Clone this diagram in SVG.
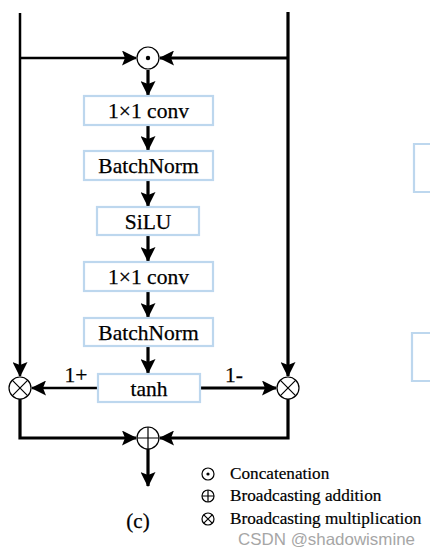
<svg xmlns="http://www.w3.org/2000/svg" width="430" height="555" viewBox="0 0 430 555">
<defs>
<style>
.box{fill:#fff;stroke:#bdd7ee;stroke-width:2.2}
.lbl{font-family:"Liberation Serif",serif;font-size:21.5px;fill:#000;stroke:#000;stroke-width:0.25;text-anchor:middle}
.ln{fill:none;stroke:#000;stroke-width:2.5}
.th{stroke-width:3.2}
.op{fill:#fff;stroke:#000;stroke-width:1.2}
.leg{font-family:"Liberation Serif",serif;font-size:17.2px;fill:#000;stroke:#000;stroke-width:0.2}
</style>
<marker id="ah" markerUnits="userSpaceOnUse" markerWidth="15" markerHeight="15" viewBox="0 0 15 15" refX="14" refY="7.5" orient="auto">
<path d="M0,0 L15,7.5 L0,15 L3,7.5 Z" fill="#000"/>
</marker>
</defs>
<g id="connectors">
<path class="ln" d="M20,13 V376" marker-end="url(#ah)"/>
<path class="ln th" d="M288,12 V376" marker-end="url(#ah)"/>
<path class="ln" d="M20,58 H136" marker-end="url(#ah)"/>
<path class="ln th" d="M288,58 H160" marker-end="url(#ah)"/>
<path class="ln th" d="M148,70 V95" marker-end="url(#ah)"/>
<path class="ln th" d="M148,125 V150" marker-end="url(#ah)"/>
<path class="ln th" d="M148,180 V206" marker-end="url(#ah)"/>
<path class="ln th" d="M148,235 V261" marker-end="url(#ah)"/>
<path class="ln th" d="M148,291 V317" marker-end="url(#ah)"/>
<path class="ln th" d="M148,346 V373" marker-end="url(#ah)"/>
<path class="ln" d="M97,388 H32" marker-end="url(#ah)"/>
<path class="ln th" d="M200,388 H276" marker-end="url(#ah)"/>
<path class="ln th" d="M20,399 V438 H136" marker-end="url(#ah)"/>
<path class="ln th" d="M288,399 V438 H160" marker-end="url(#ah)"/>
<path class="ln th" d="M148,449 V486" marker-end="url(#ah)"/>
</g>
<g id="concat">
<circle class="op" cx="148" cy="58" r="11"/>
<circle cx="148" cy="58" r="2.2" fill="#000"/>
</g>
<g id="conv1"><rect class="box" x="84" y="96" width="129" height="29"/><text class="lbl" x="148.5" y="118">1×1 conv</text></g>
<g id="bn1"><rect class="box" x="84" y="151" width="129" height="29"/><text class="lbl" x="148.5" y="173">BatchNorm</text></g>
<g id="silu"><rect class="box" x="97" y="207" width="102" height="28"/><text class="lbl" x="148" y="229">SiLU</text></g>
<g id="conv2"><rect class="box" x="84" y="262" width="129" height="29"/><text class="lbl" x="148.5" y="284">1×1 conv</text></g>
<g id="bn2"><rect class="box" x="84" y="318" width="129" height="28"/><text class="lbl" x="148.5" y="340">BatchNorm</text></g>
<g id="tanh"><rect class="box" x="98" y="374" width="102" height="28"/><text class="lbl" x="149" y="396">tanh</text></g>
<g id="mulL">
<circle class="op" cx="20" cy="388" r="11"/>
<path d="M12.2,380.2 L27.8,395.8 M27.8,380.2 L12.2,395.8" stroke="#000" stroke-width="1.2"/>
</g>
<g id="mulR">
<circle class="op" cx="288" cy="388" r="11"/>
<path d="M280.2,380.2 L295.8,395.8 M295.8,380.2 L280.2,395.8" stroke="#000" stroke-width="1.2"/>
</g>
<g id="add">
<circle class="op" cx="148" cy="438" r="11"/>
<path d="M137,438 H159 M148,427 V449" stroke="#000" stroke-width="1.2"/>
</g>
<text class="lbl" x="76" y="382">1+</text>
<text class="lbl" x="234" y="382">1-</text>
<g id="legend">
<circle cx="208" cy="474" r="6" fill="#fff" stroke="#000" stroke-width="1.2"/>
<circle cx="208" cy="474" r="1.6" fill="#000"/>
<text class="leg" x="230" y="479">Concatenation</text>
<circle cx="208" cy="496" r="6" fill="#fff" stroke="#000" stroke-width="1.2"/>
<path d="M202,496 H214 M208,490 V502" stroke="#000" stroke-width="1.2"/>
<text class="leg" x="230" y="501">Broadcasting addition</text>
<circle cx="208" cy="519" r="6" fill="#fff" stroke="#000" stroke-width="1.2"/>
<path d="M203.8,514.8 L212.2,523.2 M212.2,514.8 L203.8,523.2" stroke="#000" stroke-width="1.2"/>
<text class="leg" x="230" y="524">Broadcasting multiplication</text>
</g>
<text class="lbl" x="138" y="528" style="font-size:21px">(c)</text>
<g id="partial1"><path d="M430,144 H414 V192 H430" fill="#fff" stroke="#bdd7ee" stroke-width="2.2"/></g>
<g id="partial2"><path d="M430,333 H412 V381 H430" fill="#fff" stroke="#bdd7ee" stroke-width="2.2"/></g>
<text x="238" y="545" textLength="177" lengthAdjust="spacingAndGlyphs" style="font-family:'Liberation Sans',sans-serif;font-size:16.5px;fill:#a6a6a6">CSDN @shadowismine</text>
</svg>
